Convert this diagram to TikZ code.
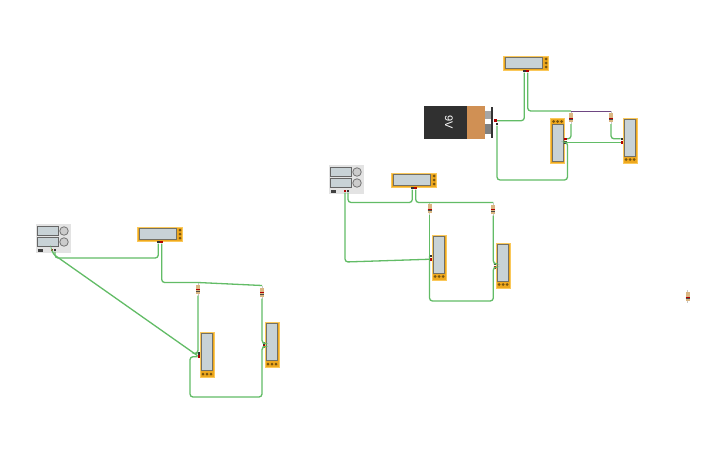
\documentclass[tikz,border=0pt]{standalone}
\usepackage{fontspec}
\setmainfont{Liberation Sans}
\definecolor{wiregreen}{RGB}{98,188,102}
\definecolor{meterorange}{RGB}{238,168,30}
\definecolor{meterglow}{RGB}{250,200,90}
\definecolor{screenfill}{RGB}{200,210,214}
\definecolor{screenedge}{RGB}{115,112,100}
\definecolor{restan}{RGB}{218,182,130}
\definecolor{batdark}{RGB}{48,48,48}
\definecolor{batorange}{RGB}{208,144,84}
\definecolor{wirepurple}{RGB}{110,70,130}
\tikzset{
  wire/.style={draw=wiregreen,line width=1.3pt,rounded corners=3pt},
  meterbody/.style={draw=meterglow,fill=meterorange,line width=0.8pt,inner sep=0pt,rectangle},
  meterscreen/.style={draw=screenedge,fill=screenfill,line width=1pt,inner sep=0pt,rectangle},
  btn/.style={circle,fill=black!50!meterorange,inner sep=0pt,minimum size=3pt},
  tblack/.style={fill=black!80,inner sep=0pt,minimum size=2.6pt,rectangle},
  tred/.style={fill=red!70!black,inner sep=0pt,minimum size=2.6pt,rectangle},
  supplybody/.style={fill=black!11,inner sep=0pt,rectangle,minimum width=35pt,minimum height=29pt},
  supplyscreen/.style={draw=black!60,fill=screenfill,line width=0.8pt,inner sep=0pt,rectangle,minimum width=21pt,minimum height=9pt},
  knob/.style={circle,draw=black!55,fill=black!20,line width=0.8pt,inner sep=0pt,minimum size=8.5pt},
  resbody/.style={fill=restan,inner sep=0pt,rectangle,minimum width=4pt,minimum height=9pt},
  reslead/.style={draw=black!22,line width=1pt},
  band/.style={draw=#1,line width=1pt}
}
% vertical meter: name, centre x, centre y, button offset (+ bottom / - top), terminal side (+1 right / -1 left), first terminal colour, second colour
\newcommand{\vmeter}[7]{
  \node[meterbody,minimum width=14pt,minimum height=45pt] (#1) at (#2,#3) {};
  \node[meterscreen,minimum width=11pt,minimum height=37pt] (#1s) at (#2,{#3-(#4)*0.14}) {};
  \foreach \k in {-4,0,4}{\node[btn] at ({#2+\k},{#3+(#4)}) {};}
  \node[#6] (#1a) at ({#2+(#5)*8},{#3-1.7}) {};
  \node[#7] (#1b) at ({#2+(#5)*8},{#3+1.7}) {};
}
% horizontal meter: name, centre x, centre y
\newcommand{\hmeter}[3]{
  \node[meterbody,minimum width=45pt,minimum height=14pt] (#1) at (#2,#3) {};
  \node[meterscreen,minimum width=37pt,minimum height=11pt] (#1s) at ({#2-2},#3) {};
  \foreach \k in {-4,0,4}{\node[btn] at ({#2+20},{#3+\k}) {};}
  \node[tblack] (#1a) at ({#2-1.7},{#3+8}) {};
  \node[tred] (#1b) at ({#2+1.7},{#3+8}) {};
}
% power supply: name, left x, top y
\newcommand{\psupply}[3]{
  \node[supplybody] (#1) at ({#2+17.5},{#3+14.5}) {};
  \node[supplyscreen] at ({#2+11.5},{#3+7}) {};
  \node[supplyscreen] at ({#2+11.5},{#3+18}) {};
  \node[knob] at ({#2+28},{#3+7}) {};
  \node[knob] at ({#2+28},{#3+18}) {};
  \node[fill=black!75,inner sep=0pt,minimum width=5pt,minimum height=3pt,rectangle] at ({#2+4},{#3+26}) {};
  \node[tred] (#1r) at ({#2+16},{#3+26}) {};
  \node[tblack] (#1k) at ({#2+19},{#3+26}) {};
}
% resistor: name, x, centre y
\newcommand{\resistor}[3]{
  \draw[reslead] (#2,{#3-6.5}) -- (#2,{#3+6.5});
  \node[resbody] (#1) at (#2,#3) {};
  \draw[band=red!70!black] ({#2-2},{#3+0.5}) -- ({#2+2},{#3+0.5});
  \draw[band=black!70] ({#2-2},{#3+2.2}) -- ({#2+2},{#3+2.2});
  \coordinate (#1t) at (#2,{#3-6.5});
  \coordinate (#1u) at (#2,{#3+6.5});
}
\begin{document}
\begin{tikzpicture}[x=1pt,y=-1pt]
\useasboundingbox (0,0) rectangle (725,453);
\fill[white] (0,0) rectangle (725,453);

% --- left circuit
\psupply{psa}{36}{224}
\hmeter{ma}{160}{234}
\vmeter{va}{207}{355}{19}{-1}{tblack}{tred}
\vmeter{vb}{272}{345}{19}{-1}{tblack}{tred}
\resistor{ra}{198}{289}
\resistor{rb}{262}{292}
\draw[wire] (psak) -- (55,258) -| (maa);
\draw[wire] (psar) -- (53,254) -- (vab);
\draw[wire] (mab) |- (rat) -- (rbt);
\draw[wire] (rau) |- (vaa);
\draw[wire] (rbu) |- (vba);
\draw[wire] (vab) -| (190,397) -| (rbu |- vbb) -- (vbb);

% --- middle circuit
\psupply{psb}{329}{165}
\hmeter{mb}{414}{180}
\vmeter{vc}{439}{257.5}{19}{-1}{tblack}{tred}
\vmeter{vd}{503}{265.5}{19}{-1}{tblack}{tred}
\resistor{rc}{429.5}{208.5}
\resistor{rd}{493.3}{209}
\coordinate (midtop) at (429.5,202.5);
\draw[wire] (psbk) |- (412.3,202.5) -- (mba);
\draw[wire] (psbr) -- (345,262) -- (vcb);
\draw[wire] (mbb) |- (rdt);
\draw[wire] (rct) -- (midtop);
\draw[wire] (rcu) |- (vca);
\draw[wire] (vcb) -| (429.5,301) -| (rdu |- vdb) -- (vdb);
\draw[wire] (rdu) |- (vda);

% --- upper right circuit
\fill[black!35] (485,111) rectangle (491,119);
\fill[black!50] (485,124) rectangle (491,134);
\node[fill=batdark,inner sep=0pt,rectangle,minimum width=43pt,minimum height=33pt] (bat) at (445.5,122.5) {};
\node[fill=batorange,inner sep=0pt,rectangle,minimum width=18pt,minimum height=33pt] (batcap) at (476,122.5) {};
\node[fill=black!80,inner sep=0pt,rectangle,minimum width=2.5pt,minimum height=31pt] (batplate) at (492,122.5) {};
\node[text=white,font=\fontsize{11}{11}\selectfont,rotate=-90] (batlabel) at (449,122.5) {9V};
\node[tred] (batp) at (495.5,120.7) {};
\node[tblack] (batn) at (497,124) {};
\hmeter{mc}{526}{63}
\vmeter{ve}{557.5}{140.5}{-19}{1}{tred}{tblack}
\vmeter{vf}{630}{140.5}{19}{-1}{tblack}{tred}
\resistor{re}{571}{117.5}
\resistor{rf}{611}{117.5}
\draw[wire] (batp) -| (mca);
\draw[wire] (mcb) |- (ret);
\draw[draw=wirepurple,line width=0.9pt] (ret) -- (rft);
\draw[wire] (reu) |- (vea);
\draw[wire] (rfu) |- (vfa);
\draw[wire] (veb) -- (vfb);
\draw[wire] (veb) -| (567.5,180) -| (batn);

% --- lone resistor
\resistor{rg}{687.5}{296.5}
\end{tikzpicture}
\end{document}
